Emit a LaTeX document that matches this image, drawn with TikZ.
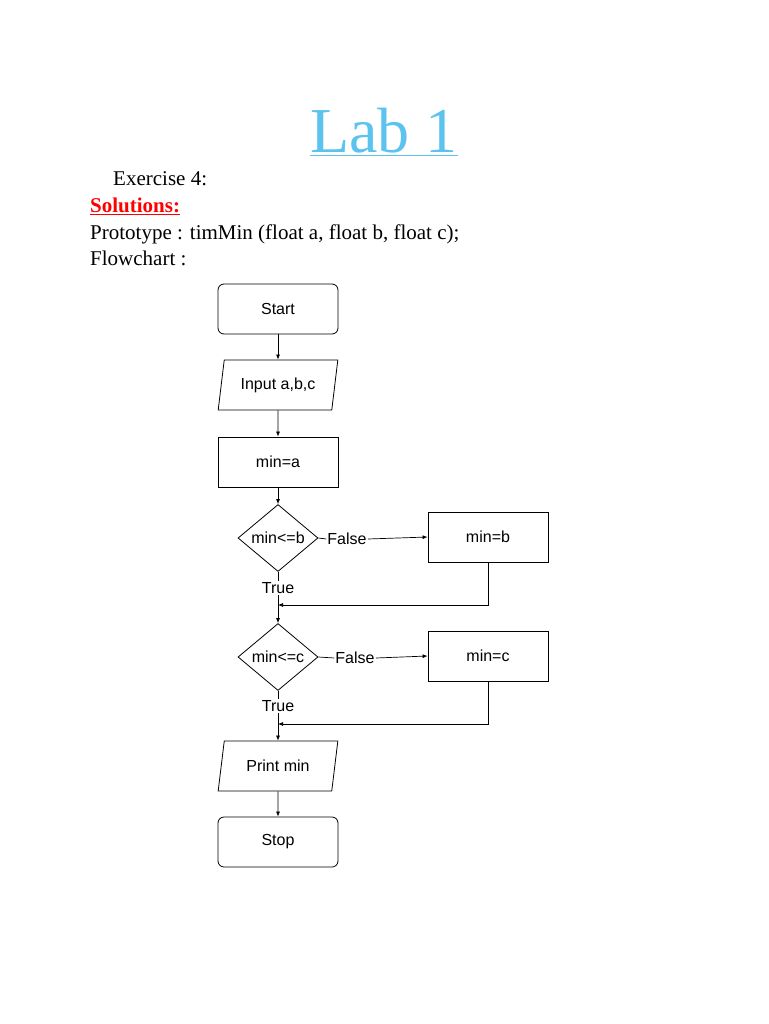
\documentclass[tikz,border=0pt]{standalone}
\usepackage{fontspec}
\setmainfont{Liberation Serif}
\newfontfamily\fcsans{Liberation Sans}
\usetikzlibrary{shapes.geometric,arrows.meta}
\definecolor{titleblue}{HTML}{5BC3EE}
\begin{document}
\begin{tikzpicture}[x=1pt,y=-1pt,
  box/.style={draw,line width=0.8pt,minimum width=120pt,minimum height=50pt,font=\fcsans\fontsize{16}{18}\selectfont},
  term/.style={box,rounded corners=6pt},
  io/.style={box,trapezium,trapezium left angle=79,trapezium right angle=101,trapezium stretches=true,inner xsep=0pt},
  dec/.style={draw,line width=0.8pt,diamond,aspect=1.2,minimum width=80pt,minimum height=67pt,inner sep=0pt,font=\fcsans\fontsize{16}{18}\selectfont},
  lbl/.style={inner sep=1pt,font=\fcsans\fontsize{16}{18}\selectfont},
  arr/.style={-{Latex[length=5pt,width=4pt]},line width=0.7pt},
  ln/.style={line width=0.7pt},
  doc/.style={anchor=base west,inner sep=0pt,font=\fontsize{21}{24}\selectfont}]
\useasboundingbox (0,0) rectangle (768,1024);
\node[text=titleblue,font=\fontsize{64}{70}\selectfont,anchor=base,inner sep=0pt] (title) at (384,153) {\underline{Lab 1}};
\node[doc] (ex) at (113,186) {Exercise 4:};
\node[doc,text=red,font=\bfseries\fontsize{21}{24}\selectfont] (sol) at (90,213) {\underline{Solutions:}};
\node[doc] (proto) at (90,240) {Prototype : timMin (float a, float b, float c);};
\node[doc] (fc) at (90,265) {Flowchart :};

\node[term] (start) at (278,309) {Start};
\node[io] (in) at (278,385) {Input a,b,c};
\node[box] (ma) at (278,462) {min=a};
\node[dec] (d1) at (278,538) {min<=b};
\node[lbl] (f1) at (347,539) {False};
\node[box] (mb) at (488,537) {min=b};
\node[lbl] (t1) at (278,588) {True};
\coordinate (j1) at (278,605);
\node[dec] (d2) at (278,657) {min<=c};
\node[lbl] (f2) at (355,658) {False};
\node[box] (mc) at (488,656) {min=c};
\node[lbl] (t2) at (278,706) {True};
\coordinate (j2) at (278,724);
\node[io] (pr) at (278,766) {Print min};
\node[term] (stop) at (278,842) {Stop};

\draw[arr] (start) -- (in);
\draw[arr] (in) -- (ma);
\draw[arr] (ma) -- (d1);
\draw[ln] (d1.east) -- (f1.west);
\draw[arr] (f1.east) -- (mb.west);
\draw[ln] (d1.south) -- (t1.north);
\draw[ln] (t1.south) -- (j1);
\draw[arr] (mb.south) |- (j1);
\draw[arr] (j1) -- (d2);
\draw[ln] (d2.east) -- (f2.west);
\draw[arr] (f2.east) -- (mc.west);
\draw[ln] (d2.south) -- (t2.north);
\draw[ln] (t2.south) -- (j2);
\draw[arr] (mc.south) |- (j2);
\draw[arr] (j2) -- (pr);
\draw[arr] (pr) -- (stop);
\end{tikzpicture}
\end{document}
